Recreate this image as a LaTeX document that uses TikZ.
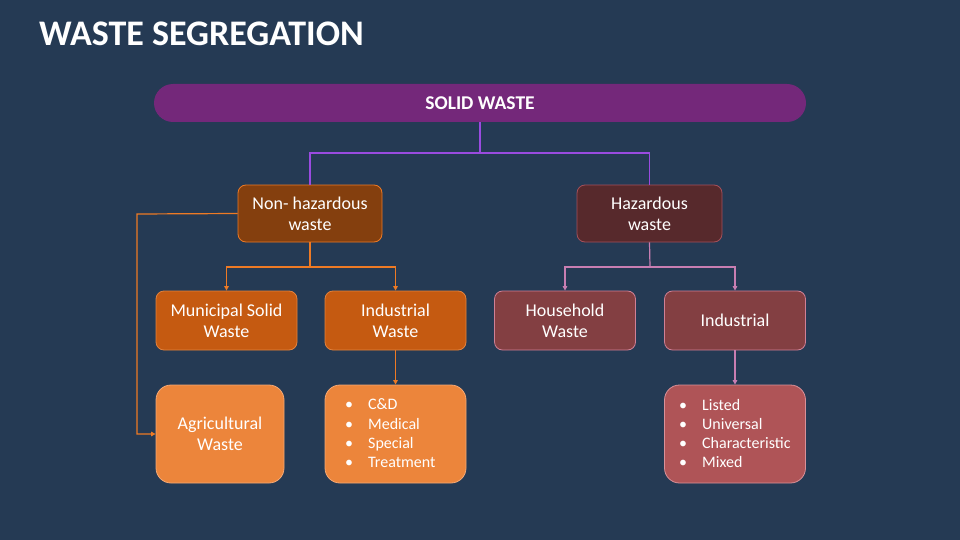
\documentclass[tikz,border=0pt]{standalone}
\usepackage{fontspec}
\setmainfont{Carlito}
\usetikzlibrary{arrows.meta,positioning,calc}

\definecolor{bgblue}{HTML}{253A54}
\definecolor{solidfill}{HTML}{74287A}
\definecolor{solidline}{HTML}{9A4BE0}
\definecolor{nonhazfill}{HTML}{843F0E}
\definecolor{nonhazline}{HTML}{EE7A24}
\definecolor{hazfill}{HTML}{57292C}
\definecolor{hazline}{HTML}{A5505A}
\definecolor{midorange}{HTML}{C55A11}
\definecolor{midorangeline}{HTML}{E3823C}
\definecolor{lightorange}{HTML}{EC853B}
\definecolor{lightorangeline}{HTML}{F4A874}
\definecolor{midred}{HTML}{833F42}
\definecolor{midredline}{HTML}{D08095}
\definecolor{lightred}{HTML}{AF5457}
\definecolor{lightredline}{HTML}{D99098}
\definecolor{pinkline}{HTML}{C87EB2}

\tikzset{
  box/.style={draw, line width=0.8pt, rounded corners=8pt, text=white, align=center,
    inner sep=0pt, minimum width=141pt, minimum height=59pt,
    font=\fontsize{18}{21}\selectfont},
  bigbox/.style={box, rounded corners=15pt, minimum height=98pt},
  listbox/.style={bigbox, align=left},
  listtext/.style={anchor=west, align=left, text=white, inner sep=0pt,
    font=\fontsize{16}{19.3}\selectfont},
  link/.style={line width=1.2pt},
  arrowlink/.style={link, -{Triangle[length=4.5pt,width=4.5pt]}}
}
\newcommand{\bul}{\textbullet\hspace{15pt}}

\begin{document}
\begin{tikzpicture}[x=1pt,y=-1pt]
  % background
  \fill[bgblue] (0,0) rectangle (960,540);
  \useasboundingbox (0,0) rectangle (960,540);

  % title
  \node[anchor=base west, text=white, inner sep=0pt, font=\fontsize{36}{40}\selectfont\bfseries]
    (title) at (39,46) {WASTE SEGREGATION};

  % top bar
  \node[fill=solidfill, rounded corners=19pt, minimum width=652pt, minimum height=38pt,
    inner sep=0pt, text=white, font=\fontsize{19.5}{22}\selectfont\bfseries]
    (solid) at (480,103) {SOLID WASTE};

  % second level
  \node[box, fill=nonhazfill, draw=nonhazline, minimum width=144pt, minimum height=57pt]
    (nonhaz) at (310,213.5) {Non- hazardous\\waste};
  \node[box, fill=hazfill, draw=hazline, minimum width=145pt, minimum height=57pt]
    (haz) at (649.5,213.5) {Hazardous\\waste};

  % third level
  \node[box, fill=midorange, draw=midorangeline] (msw) at (226.5,320.5) {Municipal Solid\\Waste};
  \node[box, fill=midorange, draw=midorangeline] (indwaste) at (395.5,320.5) {Industrial\\Waste};
  \node[box, fill=midred, draw=midredline] (household) at (565,320.5) {Household\\Waste};
  \node[box, fill=midred, draw=midredline] (indhaz) at (735,320.5) {Industrial};

  % bottom level
  \node[bigbox, fill=lightorange, draw=lightorangeline, minimum width=128pt]
    (agri) at (220,434) {Agricultural\\Waste};
  \node[listbox, fill=lightorange, draw=lightorangeline] (cnd) at (395.5,434) {};
  \node[listtext] (cndlist) at (345,433.5) {\bul C\&D\\\bul Medical\\\bul Special\\\bul Treatment};
  \node[listbox, fill=lightred, draw=lightredline] (listed) at (735,434) {};
  \node[listtext] (listedlist) at (679,433.5) {\bul Listed\\\bul Universal\\\bul Characteristic\\\bul Mixed};

  % connectors
  \coordinate (split) at (480,153);
  \draw[link, solidline] (solid.south) -- (split) -| (nonhaz.north);
  \draw[link, solidline] (split) -| (haz.north);

  \coordinate (splitnh) at (310,267);
  \draw[link, nonhazline] (nonhaz.south) -- (splitnh);
  \draw[arrowlink, nonhazline] (splitnh) -| (msw.north);
  \draw[arrowlink, nonhazline] (splitnh) -| (indwaste.north);
  \coordinate (bend) at (137,214);
  \draw[arrowlink, nonhazline] (nonhaz.west) -- (bend) |- (agri.west);
  \draw[arrowlink, nonhazline] (indwaste.south) -- (cnd.north);

  \coordinate (splith) at (650,267);
  \draw[link, pinkline] (haz.south) -- (splith);
  \draw[arrowlink, pinkline] (splith) -| (household.north);
  \draw[arrowlink, pinkline] (splith) -| (indhaz.north);
  \draw[arrowlink, pinkline] (indhaz.south) -- (listed.north);
\end{tikzpicture}
\end{document}
